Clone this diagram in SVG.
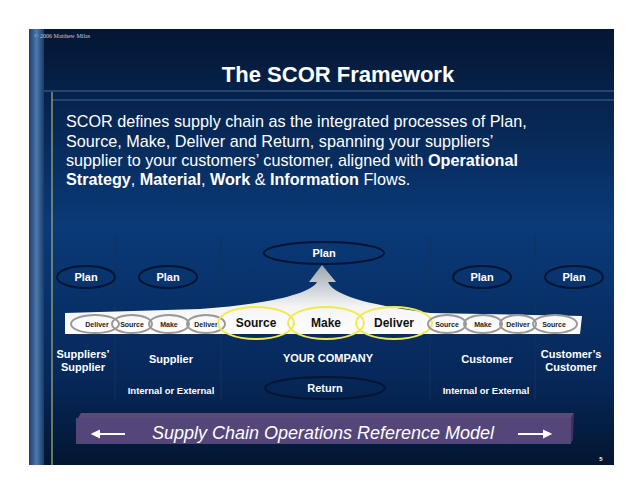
<svg xmlns="http://www.w3.org/2000/svg" width="638" height="493" viewBox="0 0 638 493">
<defs>
<linearGradient id="bg" x1="0" y1="0" x2="0" y2="1"><stop offset="0" stop-color="#041633"/><stop offset="0.45" stop-color="#0a3a78"/><stop offset="0.8" stop-color="#06285a"/><stop offset="1" stop-color="#031630"/></linearGradient>
<linearGradient id="stripe" x1="0" y1="0" x2="1" y2="0"><stop offset="0" stop-color="#1c3f6e"/><stop offset="0.5" stop-color="#4c79ad"/><stop offset="1" stop-color="#1a3a68"/></linearGradient>
<linearGradient id="band" x1="0" y1="0" x2="0" y2="1"><stop offset="0" stop-color="#9aa6b0"/><stop offset="0.6" stop-color="#f4f4f4"/><stop offset="1" stop-color="#ffffff"/></linearGradient>
<style>
.t{font-family:"Liberation Sans",Arial,sans-serif;fill:#fff}
.b{font-weight:bold}
.pl{fill:none;stroke:#041633;stroke-width:2}
.g{fill:none;stroke:#999;stroke-width:2}
.y{fill:none;stroke:#f0ea50;stroke-width:2}
.s{font-family:"Liberation Sans",Arial,sans-serif;font-weight:bold;font-size:7px;fill:#222;text-anchor:middle}
.div{stroke:#123260;stroke-width:1}
</style>
</defs>
<rect width="638" height="493" fill="#fff"/>
<rect x="29" y="29" width="585" height="436" fill="url(#bg)"/>
<rect x="29" y="29" width="15" height="436" fill="url(#stripe)"/>
<line x1="44" y1="91" x2="614" y2="91" stroke="#3b6aa0" stroke-width="1"/>
<line x1="52" y1="100" x2="614" y2="100" stroke="#3b6aa0" stroke-width="1"/>
<line x1="52" y1="92" x2="52" y2="465" stroke="#8a9a70" stroke-width="1.5"/>
<text class="t" x="34" y="38" style="font-family:'Liberation Serif',serif;font-size:6px;fill:#ccd">© 2006 Matthew Milas</text>
<text class="t b" x="338" y="82" font-size="22" text-anchor="middle">The SCOR Framework</text>
<g class="t" font-size="16.2">
<text x="66" y="127">SCOR defines supply chain as the integrated processes of Plan,</text>
<text x="66" y="147">Source, Make, Deliver and Return, spanning your suppliers’</text>
<text x="66" y="166">supplier to your customers’ customer, aligned with <tspan class="b">Operational</tspan></text>
<text x="66" y="185"><tspan class="b">Strategy</tspan>, <tspan class="b">Material</tspan>, <tspan class="b">Work</tspan> &amp; <tspan class="b">Information</tspan> Flows.</text>
</g>
<g id="dividers">
<line class="div" x1="115" y1="236" x2="115" y2="400"/>
<line class="div" x1="221" y1="236" x2="221" y2="400"/>
<line class="div" x1="430" y1="236" x2="430" y2="400"/>
<line class="div" x1="535" y1="236" x2="535" y2="400"/>
</g>
<g id="connectors">
<path d="M65,313 L200,309 C260,305 310,295 317,282 L309,282 L322,265 L336,282 L328,282 C335,298 380,306 430,313 L582,316 L580,334 L65,334 Z" fill="url(#band)"/>
</g>
<g id="plan-top"><ellipse class="pl" cx="324" cy="253" rx="60" ry="11"/><text class="t b" x="324" y="257" font-size="11" text-anchor="middle">Plan</text></g>
<g id="plan1"><ellipse class="pl" cx="86" cy="277" rx="29" ry="11"/><text class="t b" x="86" y="281" font-size="11" text-anchor="middle">Plan</text></g>
<g id="plan2"><ellipse class="pl" cx="168" cy="277" rx="29" ry="11"/><text class="t b" x="168" y="281" font-size="11" text-anchor="middle">Plan</text></g>
<g id="plan3"><ellipse class="pl" cx="482" cy="277" rx="29" ry="11"/><text class="t b" x="482" y="281" font-size="11" text-anchor="middle">Plan</text></g>
<g id="plan4"><ellipse class="pl" cx="574" cy="277" rx="29" ry="11"/><text class="t b" x="574" y="281" font-size="11" text-anchor="middle">Plan</text></g>
<g id="ss-deliver"><ellipse class="g" cx="95" cy="324" rx="24" ry="9"/><text class="s" x="97" y="327">Deliver</text></g>
<g id="s-source"><ellipse class="g" cx="132" cy="324" rx="20" ry="9"/><text class="s" x="132" y="327">Source</text></g>
<g id="s-make"><ellipse class="g" cx="169" cy="324" rx="20" ry="9"/><text class="s" x="169" y="327">Make</text></g>
<g id="s-deliver"><ellipse class="g" cx="206" cy="324" rx="19" ry="9"/><text class="s" x="206" y="327">Deliver</text></g>
<g id="y-source"><ellipse class="y" cx="256" cy="323" rx="38" ry="16"/><text x="256" y="327" font-family="Liberation Sans,Arial,sans-serif" font-weight="bold" font-size="12" fill="#111" text-anchor="middle">Source</text></g>
<g id="y-make"><ellipse class="y" cx="326" cy="323" rx="38" ry="16"/><text x="326" y="327" font-family="Liberation Sans,Arial,sans-serif" font-weight="bold" font-size="12" fill="#111" text-anchor="middle">Make</text></g>
<g id="y-deliver"><ellipse class="y" cx="394" cy="323" rx="38" ry="16"/><text x="394" y="327" font-family="Liberation Sans,Arial,sans-serif" font-weight="bold" font-size="12" fill="#111" text-anchor="middle">Deliver</text></g>
<g id="c-source"><ellipse class="g" cx="447" cy="324" rx="19" ry="9"/><text class="s" x="447" y="327">Source</text></g>
<g id="c-make"><ellipse class="g" cx="483" cy="324" rx="19" ry="9"/><text class="s" x="483" y="327">Make</text></g>
<g id="c-deliver"><ellipse class="g" cx="518" cy="324" rx="18" ry="9"/><text class="s" x="518" y="327">Deliver</text></g>
<g id="cc-source"><ellipse class="g" cx="555" cy="324" rx="22" ry="9"/><text class="s" x="554" y="327">Source</text></g>
<g class="t b" font-size="11" text-anchor="middle">
<text x="83" y="358">Suppliers’</text><text x="83" y="371">Supplier</text>
<text x="171" y="363">Supplier</text>
<text x="328" y="362">YOUR COMPANY</text>
<text x="487" y="363">Customer</text>
<text x="571" y="358">Customer’s</text><text x="571" y="371">Customer</text>
<text x="171" y="394" font-size="9.5">Internal or External</text>
<text x="486" y="394" font-size="9.5">Internal or External</text>
</g>
<g id="return"><ellipse class="pl" cx="325" cy="388" rx="60" ry="11"/><text class="t b" x="325" y="392" font-size="11" text-anchor="middle">Return</text></g>
<g id="scor-bar">
<polygon points="78,418 81,413 574,413 571,418" fill="#5a4a78"/>
<polygon points="571,418 574,413 573,440 570,444" fill="#3e3258"/>
<rect x="76" y="418" width="495" height="26" fill="#55467a"/>
<text class="t" x="323" y="439" font-size="18" font-style="italic" text-anchor="middle">Supply Chain Operations Reference Model</text>
<path d="M93,434 H125 M93,434 l6,-3 v6 z" stroke="#fff" stroke-width="2" fill="#fff"/>
<path d="M550,434 H518 M550,434 l-6,-3 v6 z" stroke="#fff" stroke-width="2" fill="#fff"/>
</g>
<text class="t b" x="601" y="461" font-size="6" text-anchor="middle">5</text>
</svg>
